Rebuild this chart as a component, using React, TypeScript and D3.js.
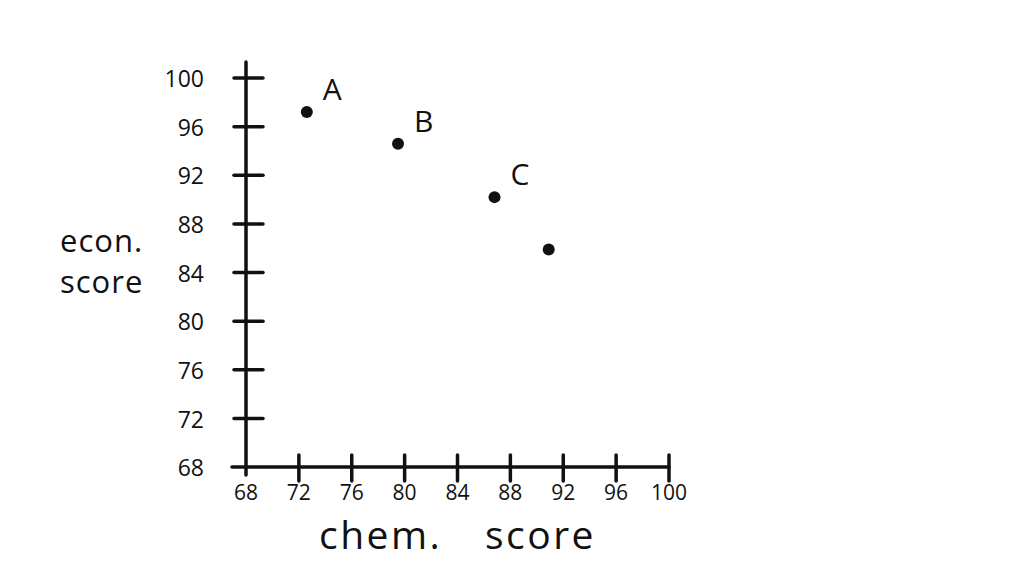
import React from "react";
import * as d3 from "d3";

const xTicks = [68, 72, 76, 80, 84, 88, 92, 96, 100];
const yTicks = [68, 72, 76, 80, 84, 88, 92, 96, 100];
const pointNames = ["A", "B", "C", ""];
const chemScores = [72.6, 79.5, 86.8, 90.9];
const econScores = [97.2, 94.6, 90.2, 85.9];
const xTitle = "chem. score";
const yTitleLines = ["econ.", "score"];

const W = 1024;
const H = 576;

export default function App() {
  const x = d3.scaleLinear().domain([68, 100]).range([246, 669]);
  const y = d3.scaleLinear().domain([68, 100]).range([467, 78]);
  const font = "'Open Sans', 'DejaVu Sans', sans-serif";
  const ink = "#111";
  const x0 = x(68);
  const y0 = y(68);

  return (
    <svg
      width={W}
      height={H}
      viewBox={`0 0 ${W} ${H}`}
      style={{ position: "absolute", left: 0, top: 0, background: "#fff" }}
    >
      <rect x={0} y={0} width={W} height={H} fill="#fff" />
      {/* y axis */}
      <line x1={x0} x2={x0} y1={y(100) - 16} y2={y0 + 8} stroke={ink} strokeWidth={3.5} strokeLinecap="round" />
      {/* x axis */}
      <line x1={x0 - 14} x2={x(100)} y1={y0} y2={y0} stroke={ink} strokeWidth={3.5} strokeLinecap="round" />
      {yTicks.map((t) => (
        <g key={"y" + t}>
          {t !== 68 && (
            <line x1={x0 - 12} x2={x0 + 17} y1={y(t)} y2={y(t)} stroke={ink} strokeWidth={3.5} strokeLinecap="round" />
          )}
          <text
            x={x0 - 42}
            y={y(t)}
            dy="0.4em"
            textAnchor="end"
            fontFamily={font}
            fontSize={23}
            fill={ink}
          >
            {t}
          </text>
        </g>
      ))}
      {xTicks.map((t) => (
        <g key={"x" + t}>
          {t !== 68 && (
            <line x1={x(t)} x2={x(t)} y1={y0 - 12} y2={y0 + 14} stroke={ink} strokeWidth={3.5} strokeLinecap="round" />
          )}
          <text x={x(t)} y={y0 + 33} textAnchor="middle" fontFamily={font} fontSize={21} fill={ink}>
            {t}
          </text>
        </g>
      ))}
      <text
        x={x(84)}
        y={y0 + 82}
        textAnchor="middle"
        fontFamily={font}
        fontSize={39}
        letterSpacing={2.5}
        wordSpacing={30}
        fill={ink}
      >
        {xTitle}
      </text>
      {yTitleLines.map((l, i) => (
        <text key={l} x={60} y={252 + i * 41} fontFamily={font} fontSize={31} letterSpacing={1} fill={ink}>
          {l}
        </text>
      ))}
      {chemScores.map((c, i) => (
        <g key={"p" + i}>
          <circle cx={x(c)} cy={y(econScores[i])} r={6} fill={ink} />
          {pointNames[i] && (
            <text
              x={x(c) + 16}
              y={y(econScores[i]) - 12}
              fontFamily={font}
              fontSize={30}
              fill={ink}
            >
              {pointNames[i]}
            </text>
          )}
        </g>
      ))}
    </svg>
  );
}
